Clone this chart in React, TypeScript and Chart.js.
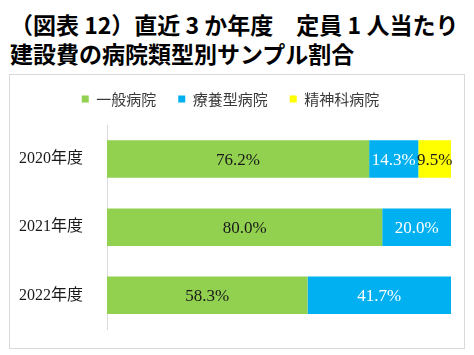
import React, { useEffect, useRef } from "react";
import { Chart, registerables } from "chart.js";

Chart.register(...registerables);

const categories = ["2020年度", "2021年度", "2022年度"];
const seriesNames = ["一般病院", "療養型病院", "精神科病院"];
const general = [76.2, 80.0, 58.3];
const longTerm = [14.3, 20.0, 41.7];
const psychiatric = [9.5, 0, 0];
const colors = ["#92D050", "#00B0F0", "#FFFF00"];
const labelColors = ["#1a1a1a", "#ffffff", "#1a1a1a"];

const legendGap = {
  id: "legendGap",
  beforeInit(chart: any) {
    const fit = chart.legend.fit;
    chart.legend.fit = function () {
      fit.bind(chart.legend)();
      this.height += 8.5;
    };
  },
};

const dataLabels = {
  id: "dataLabels",
  afterDatasetsDraw(chart: any) {
    const ctx = chart.ctx;
    ctx.save();
    ctx.font = '17px "Liberation Serif", serif';
    ctx.textAlign = "center";
    ctx.textBaseline = "middle";
    chart.data.datasets.forEach((ds: any, di: number) => {
      const meta = chart.getDatasetMeta(di);
      meta.data.forEach((el: any, i: number) => {
        const v = ds.data[i];
        if (!v) return;
        const p = el.getCenterPoint();
        ctx.fillStyle = labelColors[di];
        ctx.fillText(v.toFixed(1) + "%", p.x, p.y + 1);
      });
    });
    ctx.restore();
  },
};

export default function App() {
  const ref = useRef<HTMLCanvasElement>(null);
  useEffect(() => {
    const chart = new Chart(ref.current!, {
      type: "bar",
      data: {
        labels: categories,
        datasets: [general, longTerm, psychiatric].map((d, i) => ({
          label: seriesNames[i],
          data: d,
          backgroundColor: colors[i],
          borderWidth: 0,
          categoryPercentage: 1,
          barPercentage: 0.55,
        })),
      },
      options: {
        indexAxis: "y",
        responsive: false,
        animation: false,
        maintainAspectRatio: false,
        layout: { padding: { left: 10, right: 23, top: 69.5, bottom: 23 } },
        plugins: {
          title: { display: false },
          tooltip: { enabled: false },
          legend: {
            position: "top",
            labels: {
              boxWidth: 7,
              boxHeight: 7,
              padding: 22,
              color: "#3a3a3a",
              font: { family: '"Noto Sans CJK JP", sans-serif', size: 15 },
            },
          },
        },
        scales: {
          x: { stacked: true, min: 0, max: 100, display: false },
          y: {
            stacked: true,
            afterFit(scale: any) {
              scale.width = 97;
            },
            grid: { display: false },
            border: { display: true, color: "#d9d9d9", width: 1 },
            ticks: {
              padding: 16,
              color: "#1a1a1a",
              font: { family: '"Liberation Serif", "Noto Sans CJK JP", serif', size: 16 },
            },
          },
        },
      },
      plugins: [legendGap, dataLabels],
    });
    return () => chart.destroy();
  }, []);

  return (
    <div style={{ position: "absolute", left: 0, top: 0, width: 474, height: 355, background: "#fff", overflow: "hidden" }}>
      <div
        style={{
          position: "absolute",
          left: 10,
          top: 10,
          fontFamily: '"Noto Sans CJK JP", sans-serif',
          fontWeight: 700,
          fontSize: 23,
          lineHeight: "29px",
          color: "#000",
          whiteSpace: "pre",
        }}
      >
        {"（図表 12）直近 3 か年度　定員 1 人当たり\n建設費の病院類型別サンプル割合"}
      </div>
      <div
        style={{
          position: "absolute",
          left: 9,
          top: 74,
          width: 456,
          height: 275,
          boxSizing: "border-box",
          border: "1.5px solid #d9d9d9",
        }}
      />
      <canvas ref={ref} width={474} height={355} style={{ position: "absolute", left: 0, top: 0 }} />
    </div>
  );
}
